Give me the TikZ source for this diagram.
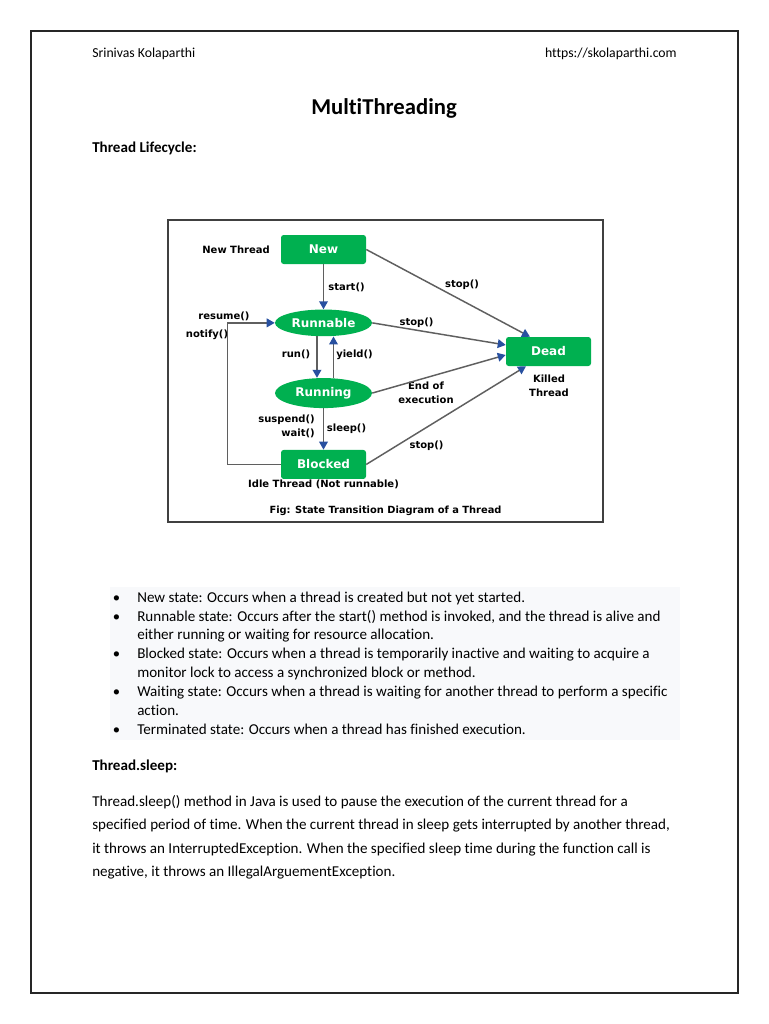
\documentclass[tikz,border=0pt]{standalone}
\usepackage{fontspec}
\setmainfont{Carlito}[Ligatures={NoCommon,NoRare}]
\newfontfamily\diafont{DejaVu Sans}
\usetikzlibrary{positioning,shapes.geometric,arrows.meta,calc}
\definecolor{stategreen}{RGB}{0,176,80}
\definecolor{tipblue}{RGB}{40,80,160}
\definecolor{linegray}{RGB}{95,95,95}
\definecolor{shadegray}{RGB}{248,249,251}

\begin{document}
\begin{tikzpicture}[
    x=0.75pt, y=-0.75pt,
    node distance=31pt,
    box/.style={rectangle, rounded corners=2pt, fill=stategreen, text=white, minimum width=63.75pt, minimum height=21.75pt, inner sep=0pt, font=\diafont\bfseries\fontsize{9}{11}\selectfont},
    oval/.style={ellipse, fill=stategreen, text=white, minimum width=72.75pt, minimum height=20pt, inner sep=0pt, font=\diafont\bfseries\fontsize{9}{11}\selectfont},
    arrow/.style={-{Triangle[length=6pt, width=6.5pt, color=tipblue]}, draw=linegray, line width=1.1pt},
    tlabel/.style={font=\diafont\bfseries\fontsize{7.5}{10.5}\selectfont, inner sep=0pt, align=center},
    bodytext/.style={anchor=base west, inner sep=0pt, font=\fontsize{11.3}{13}\selectfont},
    heading/.style={bodytext, font=\bfseries\fontsize{11.3}{13}\selectfont},
    bulletdot/.style={anchor=base, inner sep=0pt, font=\fontsize{11}{13}\selectfont}
]
\useasboundingbox (0,0) rectangle (768,1024);
\fill[white] (0,0) rectangle (768,1024);

% ===== PAGE =====
\draw[line width=1.2pt, draw=black!85] (31,31) rectangle (738,993);
\node[bodytext, font=\fontsize{10.3}{12}\selectfont] (author) at (92,58) {Srinivas Kolaparthi};
\node[bodytext, anchor=base east, font=\fontsize{10.3}{12}\selectfont] (site) at (677,58) {https://skolaparthi.com};
\node[anchor=base, inner sep=0pt, font=\bfseries\fontsize{17}{20}\selectfont] (title) at (384,114) {MultiThreading};
\node[heading] (lifecycle) at (92,152) {Thread Lifecycle:};

% ===== STATE DIAGRAM =====
\draw[line width=1.1pt, draw=black!75] (168,220) rectangle (603,522);

\node[box] (new) at (323.5,249.5) {New};
\node[oval, below=33.75pt of new] (runnable) {Runnable};
\node[oval, minimum height=22.5pt, below=of runnable] (running) {Running};
\node[box, below=of running] (blocked) {Blocked};
\node[box] (dead) at (548.5,351.5) {Dead};

\node[tlabel, left=8pt of new] (newthread) {New Thread};
\node[tlabel] (startlbl) at (346.5,287) {start()};
\node[tlabel] (resumelbl) at (224,316) {resume()};
\node[tlabel] (notifylbl) at (207,335) {notify()};
\node[tlabel] (runlbl) at (296,354) {run()};
\node[tlabel] (yieldlbl) at (354.5,355) {yield()};
\node[tlabel] (stopnew) at (462,285) {stop()};
\node[tlabel] (stoprunnable) at (416.5,323) {stop()};
\node[tlabel] (endlbl) at (426,393) {End of\\execution};
\node[tlabel] (killedlbl) at (549,386) {Killed\\Thread};
\node[tlabel, align=right, anchor=east] (suspendlbl) at (315,426.5) {suspend()\\wait()};
\node[tlabel] (sleeplbl) at (346.5,429) {sleep()};
\node[tlabel] (stopblocked) at (426.5,446) {stop()};
\node[tlabel] (idlelbl) at (323.5,484) {Idle Thread (Not runnable)};
\node[tlabel, font=\diafont\bfseries\fontsize{7.4}{9}\selectfont] (caption) at (385.5,511) {Fig: State Transition Diagram of a Thread};

% ===== ARROWS =====
\draw[arrow] (new) -- (runnable);
\draw[arrow] ([xshift=-4.9pt]runnable.south) -- ([xshift=-4.9pt]running.north);
\draw[arrow] ([xshift=7.5pt]running.north) -- ([xshift=7.5pt]runnable.south);
\draw[arrow] (running) -- (blocked);
\draw[arrow] (blocked.west) -- ++(-53,0) |- (runnable.west);
\draw[arrow] (new.east) -- ([xshift=-13.9pt]dead.north);
\draw[arrow] (runnable.east) -- ([yshift=4.9pt]dead.west);
\draw[arrow] (running.east) -- ([yshift=-2.6pt]dead.west);
\draw[arrow] (blocked.east) -- ([xshift=-16.9pt]dead.south);

% ===== STATES LIST =====
\fill[shadegray] (110,587) rectangle (680,740);
\node[bulletdot] (dot1) at (116.5,602) {•};
\node[bulletdot] (dot2) at (116.5,621) {•};
\node[bulletdot] (dot3) at (116.5,658.8) {•};
\node[bulletdot] (dot4) at (116.5,696.6) {•};
\node[bulletdot] (dot5) at (116.5,734.4) {•};
\node[bodytext] (item1) at (137,602) {New state: Occurs when a thread is created but not yet started.};
\node[bodytext] (item2a) at (137,621) {Runnable state: Occurs after the start() method is invoked, and the thread is alive and};
\node[bodytext] (item2b) at (137,639.9) {either running or waiting for resource allocation.};
\node[bodytext] (item3a) at (137,658.8) {Blocked state: Occurs when a thread is temporarily inactive and waiting to acquire a};
\node[bodytext] (item3b) at (137,677.7) {monitor lock to access a synchronized block or method.};
\node[bodytext] (item4a) at (137,696.6) {Waiting state: Occurs when a thread is waiting for another thread to perform a specific};
\node[bodytext] (item4b) at (137,715.5) {action.};
\node[bodytext] (item5) at (137,734.4) {Terminated state: Occurs when a thread has finished execution.};

% ===== THREAD.SLEEP =====
\node[heading] (sleephead) at (92,770) {Thread.sleep:};
\node[bodytext] (para1) at (92,806) {Thread.sleep() method in Java is used to pause the execution of the current thread for a};
\node[bodytext] (para2) at (92,829.5) {specified period of time. When the current thread in sleep gets interrupted by another thread,};
\node[bodytext] (para3) at (92,853) {it throws an InterruptedException. When the specified sleep time during the function call is};
\node[bodytext] (para4) at (92,876.5) {negative, it throws an IllegalArguementException.};

\end{tikzpicture}
\end{document}
